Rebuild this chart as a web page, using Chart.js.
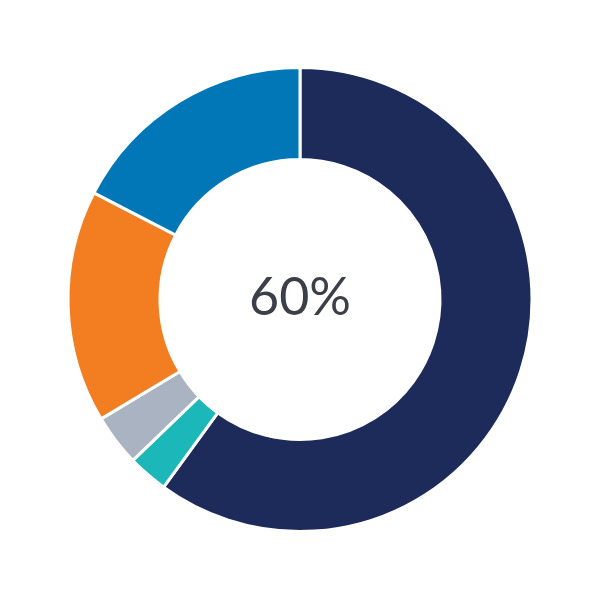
<!DOCTYPE html>
<html>
<head>
<meta charset="utf-8">
<title>Share donut</title>
<script src="https://cdn.jsdelivr.net/npm/chart.js@4"></script>
<style>
  html, body { margin: 0; padding: 0; background: #fff; }
  #wrap { width: 600px; height: 599px; }
</style>
</head>
<body>
<div id="wrap"><canvas id="donut" width="600" height="599"></canvas></div>
<script>
// Slices, clockwise from 12 o'clock (percent of total)
const labels = ['Navy', 'Teal', 'Gray', 'Orange', 'Blue'];
const values = [60.0, 2.8, 3.6, 16.2, 17.4];
const colors = ['#1d2b5b', '#1cb7b8', '#a9b3c1', '#f37e21', '#0277b7'];
const centerLabel = '60%';

// Draws the big percentage in the hole
const centerText = {
  id: 'centerText',
  afterDraw(chart) {
    const { ctx } = chart;
    const arc = chart.getDatasetMeta(0).data[0];
    if (!arc) return;
    ctx.save();
    ctx.font = '400 52px Lato, "Open Sans", sans-serif';
    ctx.fillStyle = '#3b4048';
    ctx.textAlign = 'center';
    ctx.textBaseline = 'alphabetic';
    ctx.fillText(centerLabel, arc.x, arc.y + 15);
    ctx.restore();
  },
};

new Chart(document.getElementById('donut').getContext('2d'), {
  type: 'doughnut',
  data: {
    labels,
    datasets: [{
      data:            values,
      backgroundColor: colors,
      borderColor:     '#ffffff',
      borderWidth:     3,
      hoverOffset:     0,
    }],
  },
  options: {
    responsive: false,
    animation:  false,
    cutout:     140,
    layout:     { padding: 66 },
    plugins: {
      legend:  { display: false },
      tooltip: { enabled: false },
    },
  },
  plugins: [centerText],
});
</script>
</body>
</html>
